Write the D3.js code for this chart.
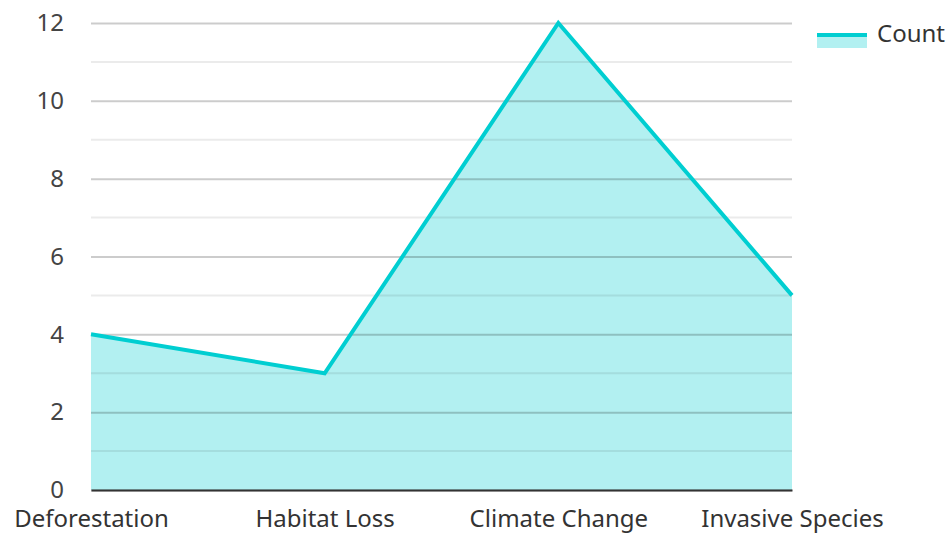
<!DOCTYPE html>
<html>
<head>
<meta charset="utf-8">
<script src="https://cdn.jsdelivr.net/npm/d3@7"></script>
<style>
  body { margin: 0; background: #fff; }
  svg { display: block; font-family: "Noto Sans", sans-serif; }
</style>
</head>
<body>
<svg id="chart" width="949" height="533"></svg>
<script>
// chart data
var categories = ["Deforestation", "Habitat Loss", "Climate Change", "Invasive Species"];
var counts = [4, 3, 12, 5];
var yTicks = [0, 2, 4, 6, 8, 10, 12];
var seriesName = "Count";

var svg = d3.select("#chart");
var margin = { left: 91, right: 157, top: 23, bottom: 43 };
var width = 949 - margin.left - margin.right,
    height = 533 - margin.top - margin.bottom;

var x = d3.scalePoint().domain(categories).range([0, width]).padding(0);
var y = d3.scaleLinear().domain([0, 12]).range([height, 0]);

var g = svg.append("g").attr("transform", "translate(" + margin.left + "," + margin.top + ")");

var data = categories.map(function(c, i) { return { cat: c, v: counts[i] }; });

// area fill first, grid on top so it shows through
g.append("path")
    .datum(data)
    .attr("fill", "#00ced1")
    .attr("fill-opacity", 0.3)
    .attr("d", d3.area()
        .x(function(d) { return x(d.cat); })
        .y0(y(0))
        .y1(function(d) { return y(d.v); }));

// minor gridlines at odd values
g.append("g")
    .selectAll("line")
    .data(d3.range(1, 12, 2))
    .enter().append("line")
    .attr("x1", 0).attr("x2", width)
    .attr("y1", function(d) { return y(d); })
    .attr("y2", function(d) { return y(d); })
    .attr("stroke", "#000")
    .attr("stroke-opacity", 0.08)
    .attr("stroke-width", 2);

// y axis with major gridlines
var yAxis = g.append("g")
    .call(d3.axisLeft(y).tickValues(yTicks).tickSize(-width).tickPadding(27));
yAxis.select(".domain").remove();
yAxis.selectAll(".tick line")
    .attr("stroke", "#000")
    .attr("stroke-opacity", 0.2)
    .attr("stroke-width", 2);
yAxis.selectAll(".tick text")
    .attr("fill", "#444")
    .attr("font-size", 24)
    .attr("font-family", "Noto Sans");

// x axis
var xAxis = g.append("g")
    .attr("transform", "translate(0," + height + ")")
    .call(d3.axisBottom(x).tickSize(0).tickPadding(20));
xAxis.select(".domain").attr("stroke", "#333").attr("stroke-width", 2);
xAxis.selectAll(".tick text")
    .attr("fill", "#333")
    .attr("font-size", 24)
    .attr("font-family", "Noto Sans");

// series line
g.append("path")
    .datum(data)
    .attr("fill", "none")
    .attr("stroke", "#00ced1")
    .attr("stroke-width", 4)
    .attr("d", d3.line()
        .x(function(d) { return x(d.cat); })
        .y(function(d) { return y(d.v); }));

// legend
var lg = svg.append("g").attr("transform", "translate(817,33)");
lg.append("rect")
    .attr("width", 50).attr("height", 15)
    .attr("fill", "#00ced1").attr("fill-opacity", 0.3);
lg.append("line")
    .attr("x1", 0).attr("x2", 50).attr("y1", 2).attr("y2", 2)
    .attr("stroke", "#00ced1").attr("stroke-width", 4);
lg.append("text")
    .attr("x", 60).attr("y", 3)
    .attr("dominant-baseline", "middle")
    .attr("fill", "#333")
    .attr("font-size", 24)
    .text(seriesName);
</script>
</body>
</html>
